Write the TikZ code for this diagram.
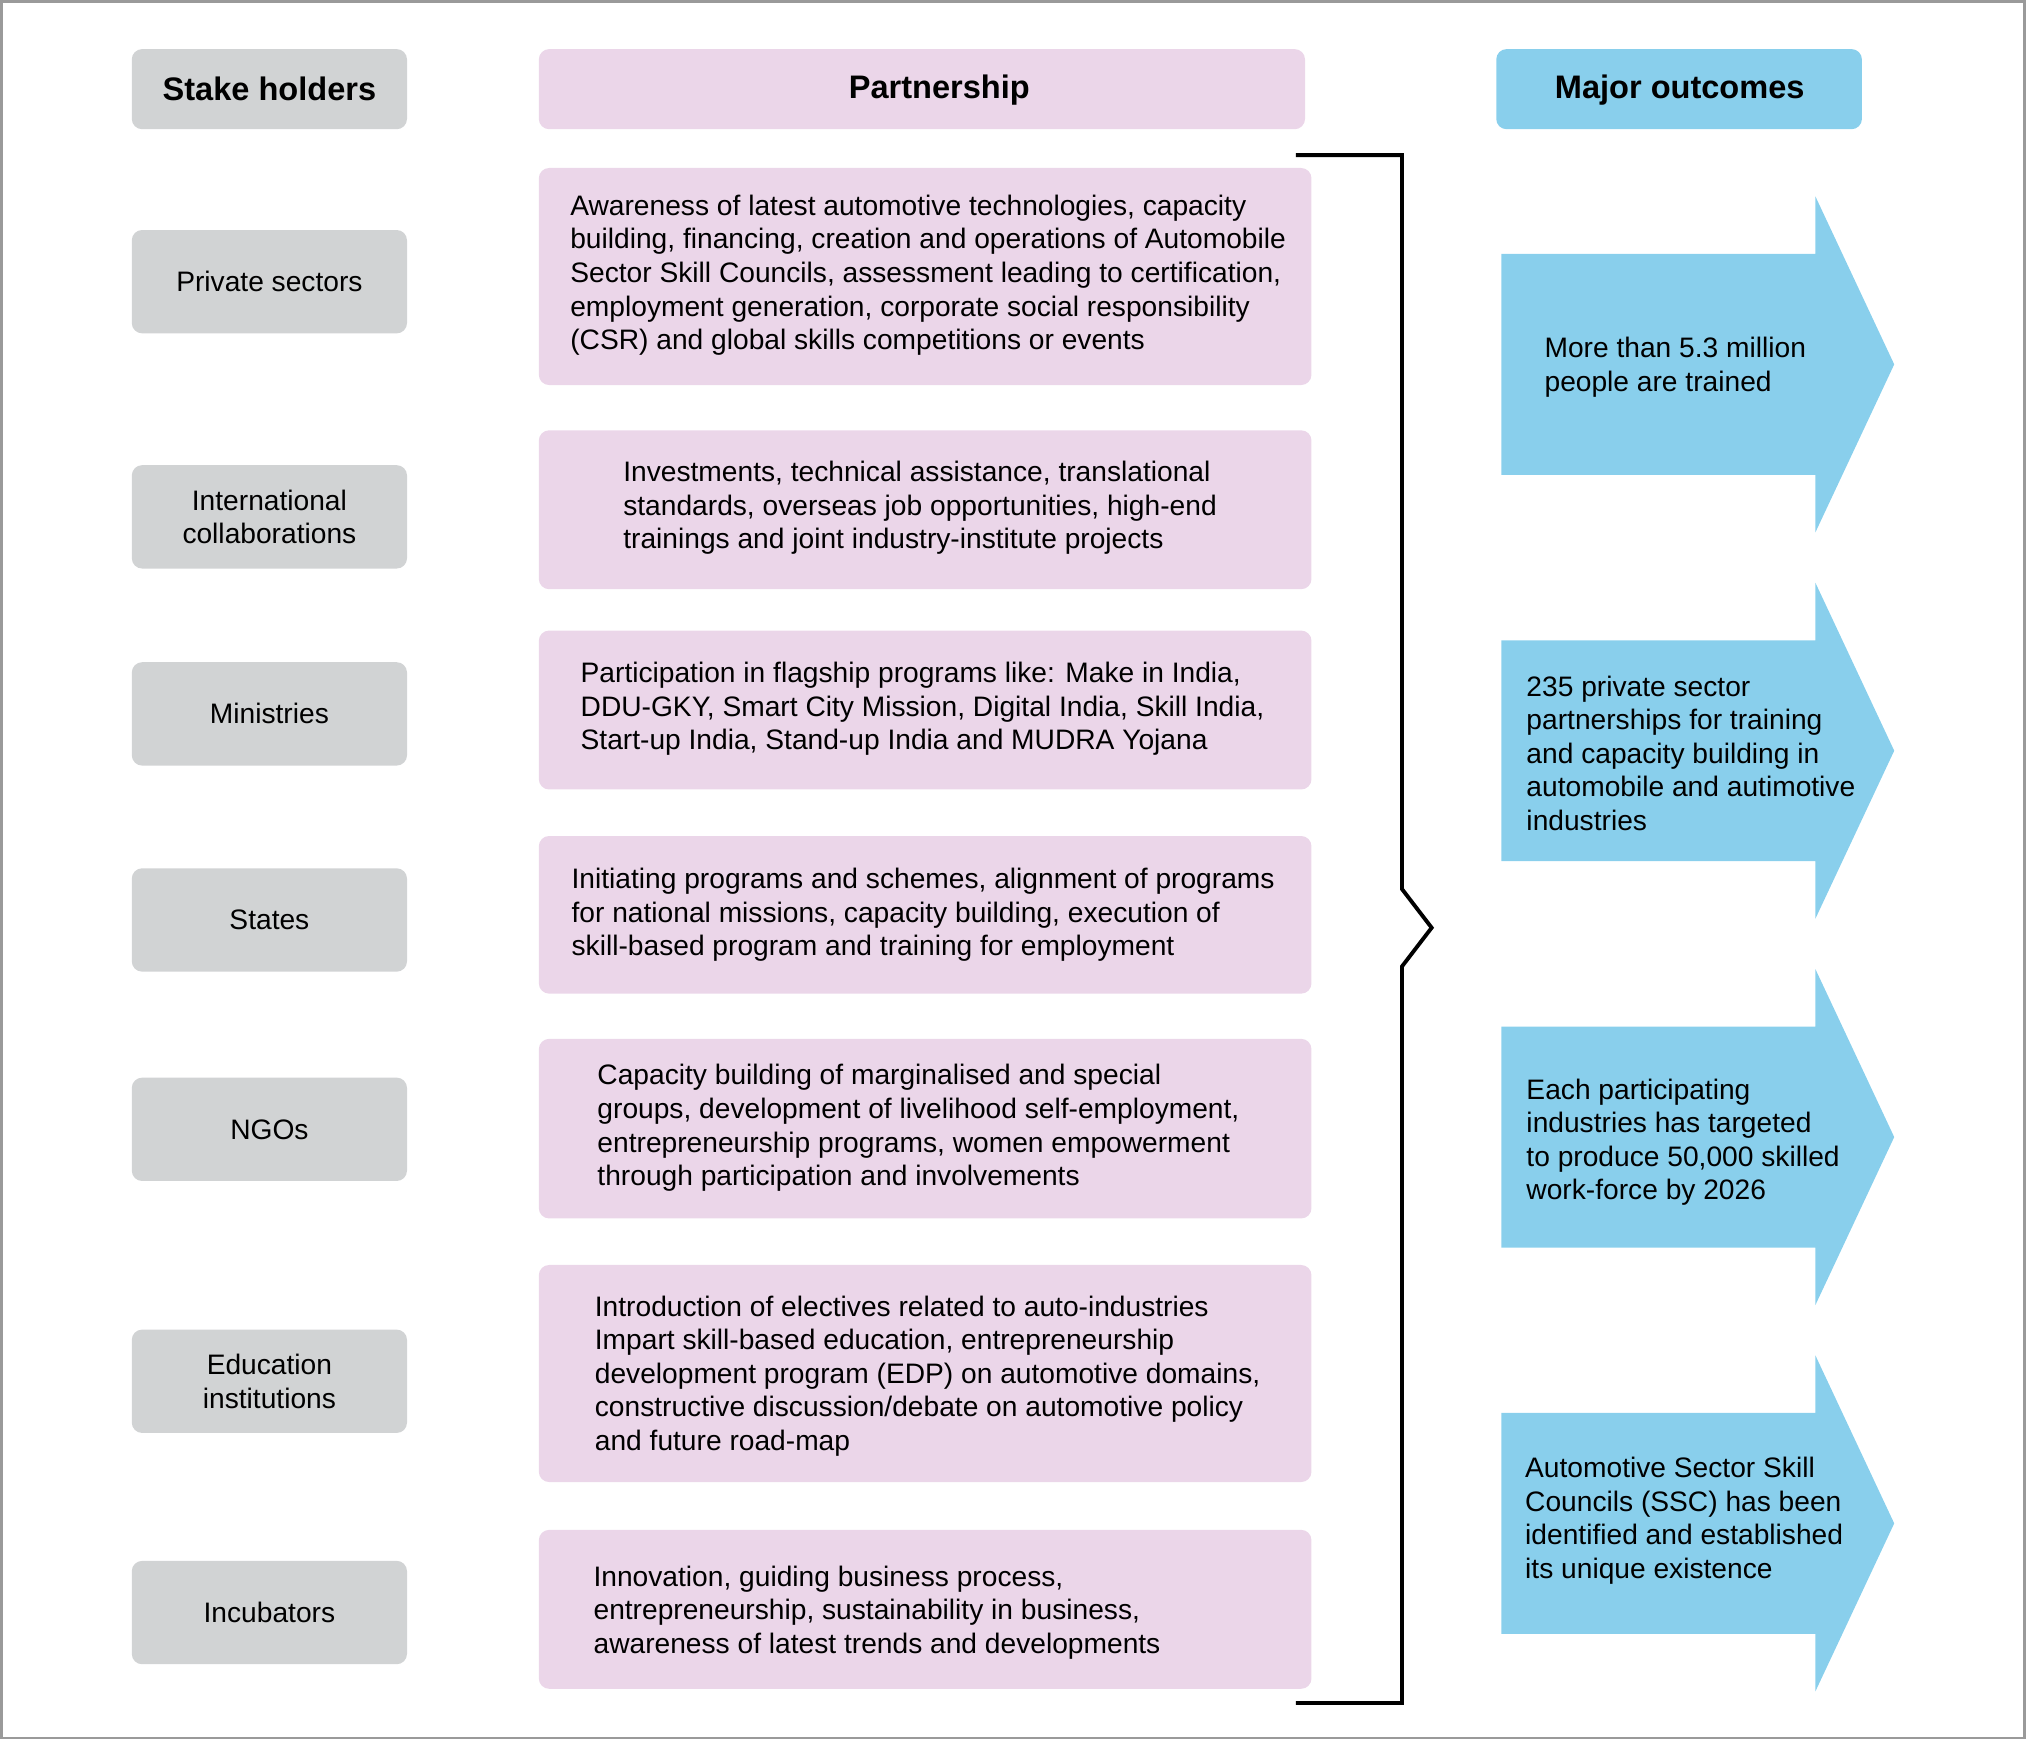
\documentclass[tikz,border=0pt]{standalone}
\usepackage{fontspec}
\setmainfont{Liberation Sans}
\definecolor{sgray}{HTML}{D1D3D4}
\definecolor{spink}{HTML}{EBD6E9}
\definecolor{sblue}{HTML}{89CFEC}
\definecolor{sframe}{HTML}{9A9A9A}
\begin{document}
\begin{tikzpicture}[x=0.5pt,y=-0.5pt,
  box/.style={rounded corners=4pt, inner sep=0pt, align=center,
    font=\fontsize{10.9}{13}\selectfont},
  graybox/.style={box, fill=sgray, minimum width=106.5pt, minimum height=40pt},
  headbox/.style={box, minimum height=31pt, font=\fontsize{12.6}{15}\selectfont\bfseries},
  pinkbox/.style={box, fill=spink, minimum width=299pt},
  txt/.style={inner sep=0pt, anchor=west, align=left, yshift=-1pt,
    font=\fontsize{10.9}{13}\selectfont},
  outarrow/.style={fill=sblue},
  brace/.style={line width=1.5pt, black}
]
\useasboundingbox (0,0) rectangle (1568,1346);
\draw[sframe, line width=1pt] (1,1) rectangle (1567,1345);

% headers
\node[headbox, fill=sgray, minimum width=106.5pt] (hs) at (208.5,69) {Stake holders};
\node[headbox, fill=spink, minimum width=296.5pt] (hp) at (713.5,69) {};
\node[inner sep=0pt, font=\fontsize{12.6}{15}\selectfont\bfseries] (hpt) at (727,70) {Partnership};
\node[headbox, fill=sblue, minimum width=141.5pt] (ho) at (1299.5,69) {};
\node[inner sep=0pt, font=\fontsize{12.6}{15}\selectfont\bfseries] (hot) at (1300,70) {Major outcomes};

% stakeholders
\node[graybox] (s1) at (208.5,218) {Private sectors};
\node[graybox] (s2) at (208.5,400) {International\\collaborations};
\node[graybox] (s3) at (208.5,552.5) {Ministries};
\node[graybox] (s4) at (208.5,712) {States};
\node[graybox] (s5) at (208.5,874) {NGOs};
\node[graybox] (s6) at (208.5,1069) {Education\\institutions};
\node[graybox] (s7) at (208.5,1248) {Incubators};

% partnership boxes
\node[pinkbox, minimum height=84pt] (p1) at (716,214) {};
\node[pinkbox, minimum height=61.5pt] (p2) at (716,394.5) {};
\node[pinkbox, minimum height=61.5pt] (p3) at (716,549.5) {};
\node[pinkbox, minimum height=61pt] (p4) at (716,708) {};
\node[pinkbox, minimum height=69.5pt] (p5) at (716,873.5) {};
\node[pinkbox, minimum height=84pt] (p6) at (716,1063) {};
\node[pinkbox, minimum height=61.5pt] (p7) at (716,1245.5) {};

\node[txt] (t1) at (441,211) {Awareness of latest automotive technologies, capacity\\building, financing, creation and operations of Automobile\\Sector Skill Councils, assessment leading to certification,\\employment generation, corporate social responsibility\\(CSR) and global skills competitions or events};
\node[txt] (t2) at (482,391) {Investments, technical assistance, translational\\standards, overseas job opportunities, high-end\\trainings and joint industry-institute projects};
\node[txt] (t3) at (449,546.5) {Participation in flagship programs like: Make in India,\\DDU-GKY, Smart City Mission, Digital India, Skill India,\\Start-up India, Stand-up India and MUDRA Yojana};
\node[txt] (t4) at (442,706) {Initiating programs and schemes, alignment of programs\\for national missions, capacity building, execution of\\skill-based program and training for employment};
\node[txt] (t5) at (462,871) {Capacity building of marginalised and special\\groups, development of livelihood self-employment,\\entrepreneurship programs, women empowerment\\through participation and involvements};
\node[txt] (t6) at (460,1063) {Introduction of electives related to auto-industries\\Impart skill-based education, entrepreneurship\\development program (EDP) on automotive domains,\\constructive discussion/debate on automotive policy\\and future road-map};
\node[txt] (t7) at (459,1246) {Innovation, guiding business process,\\entrepreneurship, sustainability in business,\\awareness of latest trends and developments};

% bracket
\coordinate (bt) at (1003,120);
\coordinate (bb) at (1003,1318);
\draw[brace] (bt) -- (1085,120) -- (1085,688) -- (1108,718) -- (1085,748) -- (1085,1318) -- (bb);

% outcome arrows
\foreach \c in {282,581,880,1179}{
  \fill[outarrow] (1162,\c-85.5) -- (1405,\c-85.5) -- (1405,\c-130) -- (1466,\c)
    -- (1405,\c+130) -- (1405,\c+85.5) -- (1162,\c+85.5) -- cycle;
}
\node[txt] (o1) at (1195,282) {More than 5.3 million\\people are trained};
\node[txt] (o2) at (1181,581) {235 private sector\\partnerships for training\\and capacity building in\\automobile and autimotive\\industries};
\node[txt] (o3) at (1181,882) {Each participating\\industries has targeted\\to produce 50,000 skilled\\work-force by 2026};
\node[txt] (o4) at (1180,1175) {Automotive Sector Skill\\Councils (SSC) has been\\identified and established\\its unique existence};
\end{tikzpicture}
\end{document}
